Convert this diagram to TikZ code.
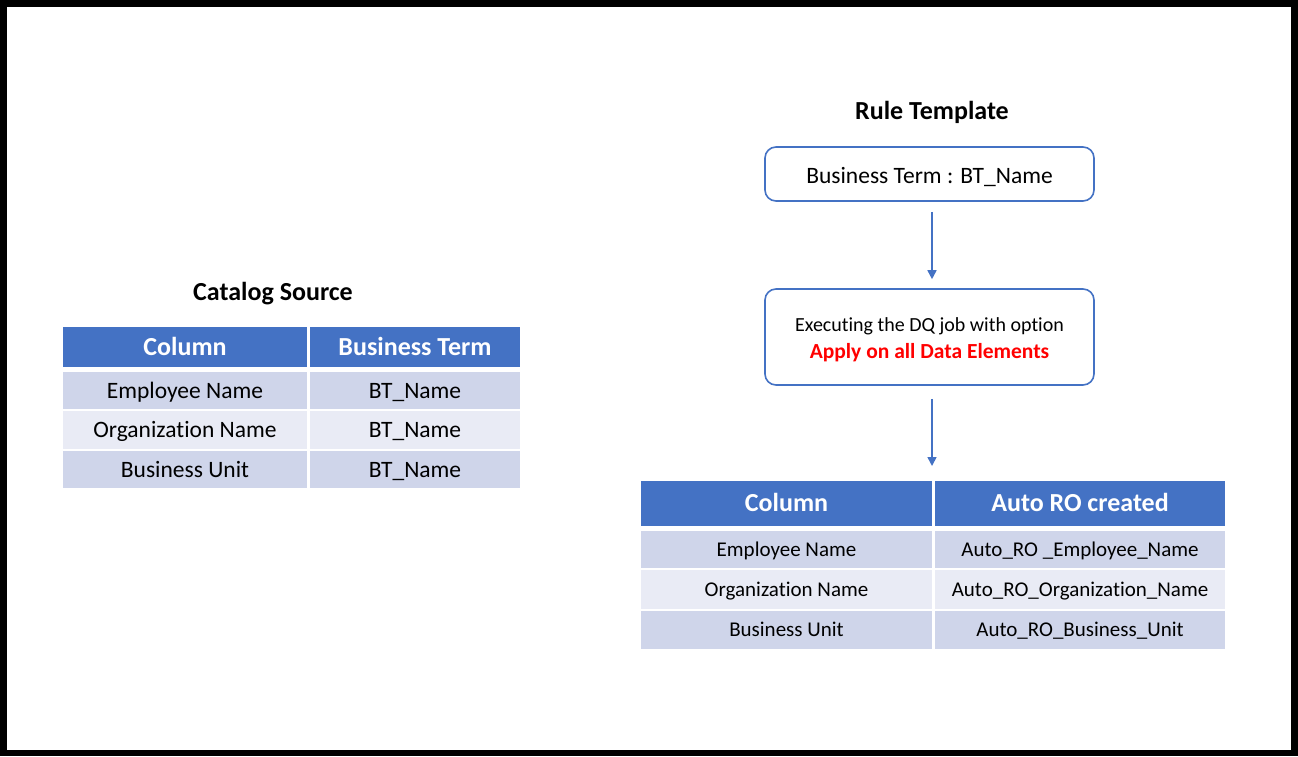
\documentclass[tikz,border=0pt]{standalone}
\usepackage{fontspec}
\setmainfont[Ligatures={NoCommon,NoRequired,NoContextual}]{Carlito}
\usetikzlibrary{arrows.meta}
\definecolor{hdr}{HTML}{4472C4}
\definecolor{rowA}{HTML}{CFD5EA}
\definecolor{rowB}{HTML}{E9EBF5}
\definecolor{acc}{HTML}{4472C4}
\tikzset{
  cell/.style={inner sep=0pt, outer sep=0pt, anchor=north west, align=center},
  hcell/.style={cell, fill=hdr, text=white, font=\fontsize{26}{30}\selectfont\bfseries, text height=19pt, text depth=2.3pt},
  acell/.style={cell, fill=rowA, text=black},
  bcell/.style={cell, fill=rowB, text=black},
  lfont/.style={font=\fontsize{23.5}{28}\selectfont, text height=18pt, text depth=3pt},
  rfont/.style={font=\fontsize{21}{25}\selectfont, text height=16pt, text depth=2.5pt},
  title/.style={font=\fontsize{26}{30}\selectfont\bfseries, text height=19pt, text depth=2.3pt, inner sep=0pt},
  rbox/.style={draw=acc, line width=1.6pt, rounded corners=11pt, fill=white, inner sep=0pt, align=center},
  flow/.style={draw=acc, line width=1.6pt, -{Triangle[length=9pt,width=9pt]}},
}
\begin{document}
\begin{tikzpicture}[x=1pt,y=-1pt]
\useasboundingbox (0,0) rectangle (1298,756);
\draw[line width=6.5pt] (3.25,3.25) rectangle (1294.5,752.8);

% Catalog Source title
\node[title] (cattitle) at (273,292) {Catalog Source};

% Left table
\node[hcell, minimum width=244pt, minimum height=40pt] (lh1) at (63,327) {Column};
\node[hcell, minimum width=210pt, minimum height=40pt] (lh2) at (310,327) {Business Term};
\node[acell, lfont, minimum width=244pt, minimum height=37pt] (l11) at (63,372) {Employee Name};
\node[acell, lfont, minimum width=210pt, minimum height=37pt] (l12) at (310,372) {BT\_Name};
\node[bcell, lfont, minimum width=244pt, minimum height=38pt] (l21) at (63,411) {Organization Name};
\node[bcell, lfont, minimum width=210pt, minimum height=38pt] (l22) at (310,411) {BT\_Name};
\node[acell, lfont, minimum width=244pt, minimum height=37pt] (l31) at (63,451) {Business Unit};
\node[acell, lfont, minimum width=210pt, minimum height=37pt] (l32) at (310,451) {BT\_Name};

% Rule Template
\node[title] (ruletitle) at (932,111) {Rule Template};
\node[rbox, minimum width=329pt, minimum height=54pt, font=\fontsize{23.5}{28}\selectfont, text height=20pt, text depth=1pt] (bt) at (929.5,174) {Business Term : BT\_Name};
\node[rbox, minimum width=329pt, minimum height=96pt] (dq) at (929.5,337) {};
\node[font=\fontsize{20}{27}\selectfont, align=center, inner sep=0pt] (dqtext) at (929.5,340)
  {Executing the DQ job with option\\
   {\fontsize{21.5}{27}\selectfont\bfseries\color{red}Apply on all Data Elements}};

% Right table
\node[hcell, minimum width=291pt, minimum height=45pt] (rh1) at (641,481) {Column};
\node[hcell, minimum width=290pt, minimum height=45pt] (rh2) at (935,481) {Auto RO created};
\node[acell, rfont, minimum width=291pt, minimum height=37pt] (r11) at (641,531) {Employee Name};
\node[acell, rfont, minimum width=290pt, minimum height=37pt] (r12) at (935,531) {Auto\_RO \_Employee\_Name};
\node[bcell, rfont, minimum width=291pt, minimum height=39pt] (r21) at (641,570) {Organization Name};
\node[bcell, rfont, minimum width=290pt, minimum height=39pt] (r22) at (935,570) {Auto\_RO\_Organization\_Name};
\node[acell, rfont, minimum width=291pt, minimum height=38pt] (r31) at (641,611) {Business Unit};
\node[acell, rfont, minimum width=290pt, minimum height=38pt] (r32) at (935,611) {Auto\_RO\_Business\_Unit};

% Connectors
\draw[flow, shorten <=10pt, shorten >=9pt] (bt.south -| rh1.north east) -- (dq.north -| rh1.north east);
\draw[flow, shorten <=13pt, shorten >=15pt] (dq.south -| rh1.north east) -- (rh1.north east);
\end{tikzpicture}
\end{document}
